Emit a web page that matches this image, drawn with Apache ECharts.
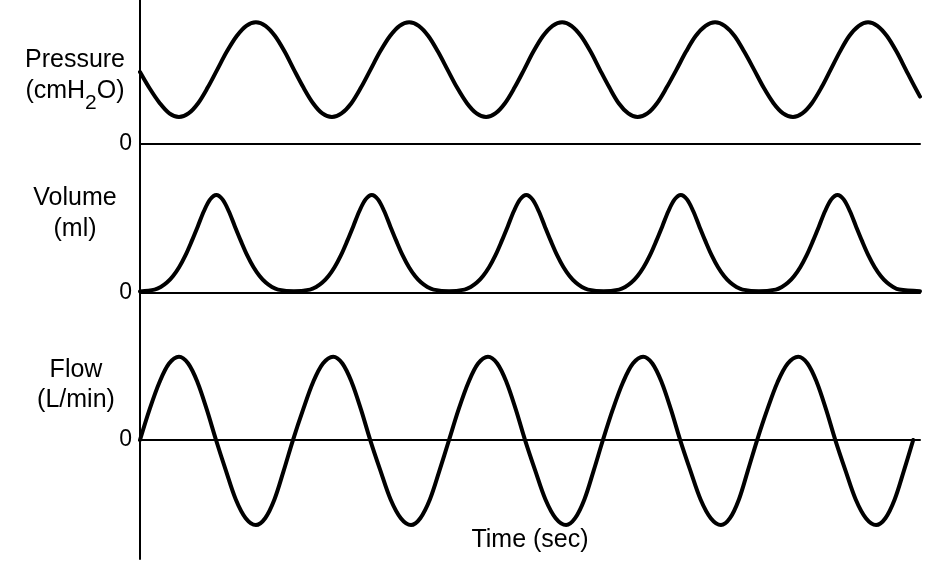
<!DOCTYPE html>
<html><head><meta charset="utf-8">
<script src="https://cdn.jsdelivr.net/npm/echarts@6/dist/echarts.min.js"></script>
<style>html,body{margin:0;padding:0;background:#fff}#c{width:945px;height:563px}</style>
</head><body><div id="c"></div>
<script>
// ---- data (time in s, arbitrary scale) ----
const pressureTime = [
  0,0.32,0.64,0.95,1.26,1.57,1.88,2.19,2.5,2.81,3.13,3.44,3.75,4.06,4.37,4.68,
  4.98,5.29,5.6,5.9,6.21,6.52,6.84,7.15,7.46,7.77,8.09,8.4,8.71,9.02,9.33,9.64,
  9.95,10.26,10.58,10.89,11.2,11.5,11.81,12.12,12.43,12.73,13.04,13.35,13.66,13.96,14.27,14.58,
  14.88,15.19,15.49,15.8,16.1,16.42,16.73,17.04,17.36,17.67,17.98,18.3,18.61,18.92,19.24,19.55,
  19.87,20.18,20.5,20.81,21.13,21.43,21.74,22.05,22.35,22.65,22.95,23.26,23.56,23.86,24.17,24.48,
  24.78,25.01,25.24];
const pressureValues = [
  12.0,9.2,6.8,5.1,4.5,5.1,6.8,9.4,12.4,15.4,18.0,19.7,20.3,19.7,18.0,15.4,
  12.4,9.4,6.8,5.1,4.5,5.1,6.8,9.4,12.4,15.4,18.0,19.7,20.3,19.7,18.0,15.4,
  12.4,9.4,6.8,5.1,4.5,5.1,6.8,9.4,12.4,15.4,18.0,19.7,20.3,19.7,18.0,15.4,
  12.4,9.4,6.8,5.1,4.5,5.1,6.8,9.4,12.4,15.4,18.0,19.7,20.3,19.7,18.0,15.4,
  12.4,9.4,6.8,5.1,4.5,5.1,6.8,9.4,12.4,15.4,18.0,19.7,20.3,19.7,18.0,15.4,
  12.4,10.1,7.9];

const volumeTime = [0,
  0.47,0.67,0.87,1.07,1.27,1.47,1.67,1.87,2.07,2.27,2.47,2.67,2.87,3.07,3.27,3.47,3.67,3.87,4.07,4.27,4.47,4.98,
  5.5,5.7,5.9,6.1,6.3,6.5,6.7,6.9,7.1,7.3,7.5,7.7,7.9,8.1,8.3,8.5,8.7,8.9,9.1,9.3,9.5,10.0,
  10.5,10.7,10.9,11.1,11.3,11.5,11.7,11.9,12.1,12.3,12.5,12.7,12.9,13.1,13.3,13.5,13.7,13.9,14.1,14.3,14.5,15.0,
  15.5,15.7,15.9,16.1,16.3,16.5,16.7,16.9,17.1,17.3,17.5,17.7,17.9,18.1,18.3,18.5,18.7,18.9,19.1,19.3,19.5,20.03,
  20.57,20.77,20.97,21.17,21.37,21.57,21.77,21.97,22.17,22.37,22.57,22.77,22.97,23.17,23.37,23.57,23.77,23.97,24.17,24.37,24.57,25.24];
const volumeValues = [8,
  17,30,52,85,130,188,258,333,410,468,490,468,410,333,258,188,130,85,52,30,17,9,
  17,30,52,85,130,188,258,333,410,468,490,468,410,333,258,188,130,85,52,30,17,9,
  17,30,52,85,130,188,258,333,410,468,490,468,410,333,258,188,130,85,52,30,17,9,
  17,30,52,85,130,188,258,333,410,468,490,468,410,333,258,188,130,85,52,30,17,9,
  17,30,52,85,130,188,258,333,410,468,490,468,410,333,258,188,130,85,52,30,17,9];

const flowTime = [
  0,0.31,0.63,0.94,1.26,1.56,1.86,2.16,2.46,2.78,3.1,3.42,3.75,4.05,4.35,4.65,
  4.95,5.28,5.6,5.92,6.25,6.55,6.85,7.15,7.45,7.78,8.11,8.44,8.77,9.07,9.38,9.69,
  10.0,10.31,10.63,10.94,11.26,11.56,11.86,12.16,12.46,12.79,13.12,13.45,13.79,14.08,14.38,14.68,
  14.98,15.3,15.63,15.95,16.28,16.58,16.88,17.18,17.48,17.81,18.14,18.47,18.8,19.09,19.38,19.67,
  19.97,20.3,20.63,20.96,21.3,21.6,21.9,22.2,22.5,22.83,23.16,23.49,23.82,24.12,24.42,24.72,
  25.02];
const flowValues = [
  0,18,34,45,49,45,34,18,0,-18,-35,-46,-50,-46,-35,-18,
  0,18,34,45,49,45,34,18,0,-18,-35,-46,-50,-46,-35,-18,
  0,18,34,45,49,45,34,18,0,-18,-35,-46,-50,-46,-35,-18,
  0,18,34,45,49,45,34,18,0,-18,-35,-46,-50,-46,-35,-18,
  0,18,34,45,49,45,34,18,0,-18,-35,-46,-50,-46,-35,-18,
  0];

const panelLabels = [['Pressure'], ['Volume','(ml)'], ['Flow','(L/min)']];
const xTitle = 'Time (sec)';

// ---- chart ----
const FONT = '"Liberation Sans", Arial, Helvetica, sans-serif';
const zip = (t, v) => t.map((x, i) => [x, v[i]]);
const xMax = 25.24;
function mkX(i) {
  return {gridIndex: i, type: 'value', min: 0, max: xMax,
    axisLine: {show: true, onZero: true, lineStyle: {color: '#000', width: 2}},
    axisTick: {show: false}, axisLabel: {show: false}, splitLine: {show: false}};
}
function mkY(i, min, max) {
  return {gridIndex: i, type: 'value', min: min, max: max,
    axisLine: {show: true, onZero: false, lineStyle: {color: '#000', width: 2}},
    axisTick: {show: false}, splitLine: {show: false},
    axisLabel: {show: true, color: '#000', fontSize: 23, fontFamily: FONT, margin: 8,
      formatter: v => (v === 0 ? '0' : '')}};
}
function mkLine(i, data) {
  return {type: 'line', xAxisIndex: i, yAxisIndex: i, data: data, smooth: 0.33,
    symbol: 'none', lineStyle: {color: '#000', width: 4, cap: 'round', join: 'round'}, silent: true};
}
function txt(s, x, y, size) {
  return {type: 'text', x: x, y: y, silent: true,
    style: {text: s, fill: '#000', font: size + 'px ' + FONT,
      textAlign: 'center', align: 'center', textVerticalAlign: 'middle', verticalAlign: 'middle'}};
}
function txtL(s, x, y, size) {
  return {type: 'text', x: x, y: y, silent: true,
    style: {text: s, fill: '#000', font: size + 'px ' + FONT,
      textAlign: 'left', align: 'left', textVerticalAlign: 'middle', verticalAlign: 'middle'}};
}

const chart = echarts.init(document.getElementById('c'));
chart.setOption({
  animation: false,
  backgroundColor: '#fff',
  grid: [
    {left: 140, right: 25, top: 0, height: 144},
    {left: 140, right: 25, top: 143, height: 150},
    {left: 140, right: 25, top: 293, height: 266}
  ],
  xAxis: [mkX(0), mkX(1), mkX(2)],
  yAxis: [mkY(0, 0, 24), mkY(1, 0, 750), mkY(2, -70, 86.5)],
  series: [
    mkLine(0, zip(pressureTime, pressureValues)),
    mkLine(1, zip(volumeTime, volumeValues)),
    mkLine(2, zip(flowTime, flowValues))
  ],
  graphic: [
    txt(panelLabels[0][0], 75, 60.5, 25),
    txtL('(cmH', 25.4, 91.5, 25),
    txtL('2', 85.1, 102.8, 21),
    txtL('O)', 96.8, 91.5, 25),
    txt(panelLabels[1][0], 75, 198.5, 25),
    txt(panelLabels[1][1], 75, 229.5, 25),
    txt(panelLabels[2][0], 76, 370.5, 25),
    txt(panelLabels[2][1], 76, 400.5, 25),
    txt(xTitle, 530, 540.5, 25)
  ]
});
</script></body></html>
